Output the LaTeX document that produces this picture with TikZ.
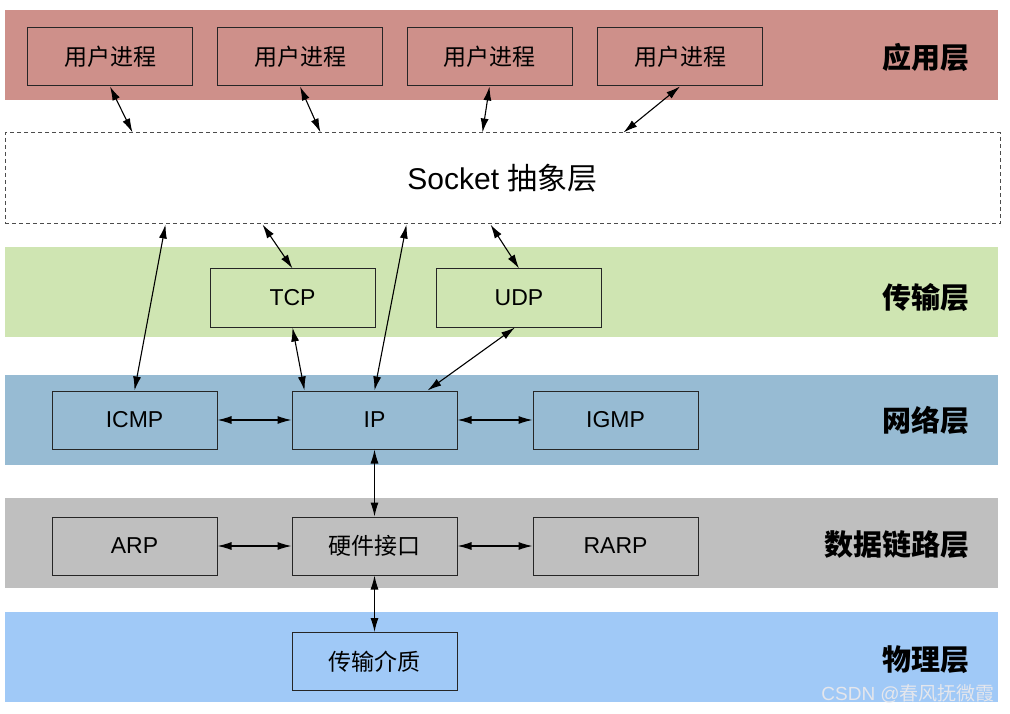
\documentclass[tikz,border=0pt]{standalone}
\usepackage{fontspec}
\setmainfont{Liberation Sans}
\newfontfamily\cjk{Noto Sans CJK SC}
\usetikzlibrary{arrows.meta}
\definecolor{appred}{RGB}{206,144,138}
\definecolor{tpgreen}{RGB}{207,229,178}
\definecolor{netblue}{RGB}{151,187,211}
\definecolor{linkgray}{RGB}{191,191,191}
\definecolor{phyblue}{RGB}{160,201,247}
\begin{document}
\begin{tikzpicture}
	[x=1pt, y=-1pt,
	band/.style={minimum width=993pt, minimum height=90pt, inner sep=0pt},
	box/.style={draw=black!85, line width=1pt, minimum width=165pt, minimum height=58pt, inner sep=0pt, font=\fontsize{23}{23}\selectfont},
	layer/.style={anchor=east, inner sep=0pt, font=\cjk\bfseries\fontsize{29}{29}\selectfont},
	link/.style={<->, >={Latex[length=14pt,width=8pt]}, line width=1.1pt}]
	\useasboundingbox (0,0) rectangle (1010,714);
	\node (app) [band, fill=appred] at (501.5,55) {};
	\node (sock) [draw=black!70, dash pattern=on 4pt off 3pt, line width=1pt, minimum width=995pt, minimum height=91pt, font=\fontsize{30}{30}\selectfont] at (502.5,178.5) {Socket {\cjk 抽象层}};
	\node (trans) [band, fill=tpgreen] at (501.5,292) {};
	\node (net) [band, fill=netblue] at (501.5,419.5) {};
	\node (dlink) [band, fill=linkgray] at (501.5,543) {};
	\node (phy) [band, fill=phyblue] at (501.5,657) {};
	\node (u1) [box] at (110,57) {\cjk 用户进程};
	\node (u2) [box] at (300,57) {\cjk 用户进程};
	\node (u3) [box] at (489.5,57) {\cjk 用户进程};
	\node (u4) [box] at (680,57) {\cjk 用户进程};
	\node (tcp) [box] at (292.5,298) {TCP};
	\node (udp) [box] at (519,298) {UDP};
	\node (icmp) [box] at (134.5,420) {ICMP};
	\node (ip) [box] at (374.5,420) {IP};
	\node (igmp) [box] at (615.5,420) {IGMP};
	\node (arp) [box] at (134.5,546) {ARP};
	\node (hw) [box] at (374.5,546) {\cjk 硬件接口};
	\node (rarp) [box] at (615.5,546) {RARP};
	\node (med) [box] at (374.5,661.5) {\cjk 传输介质};
	\node (lapp) [layer] at (970,57) {应用层};
	\node (ltrans) [layer] at (970,298) {传输层};
	\node (lnet) [layer] at (970,420) {网络层};
	\node (llink) [layer] at (970,545) {数据链路层};
	\node (lphy) [layer] at (970,660) {物理层};
	\node (mark) [anchor=east, inner sep=0pt, text={rgb,255:red,228;green,230;blue,236}, font=\fontsize{19}{19}\selectfont] at (995,694) {CSDN @{\cjk 春风抚微霞}};
	\draw [link] (u1.south) -- ([xshift=-370pt]sock.north);
	\draw [link] (u2.south) -- ([xshift=-182pt]sock.north);
	\draw [link] (u3.south) -- ([xshift=-20pt]sock.north);
	\draw [link] (u4.south) -- ([xshift=121pt]sock.north);
	\draw [link] ([xshift=-337pt]sock.south) -- (icmp.north);
	\draw [link] ([xshift=-240pt]sock.south) -- (tcp.north);
	\draw [link] (tcp.south) -- ([xshift=-70pt]ip.north);
	\draw [link] (ip.north) -- ([xshift=-96pt]sock.south);
	\draw [link] ([xshift=-12pt]sock.south) -- (udp.north);
	\draw [link] ([xshift=-4pt]udp.south) -- ([xshift=53pt]ip.north);
	\draw [link] (icmp) -- (ip);
	\draw [link] (ip) -- (igmp);
	\draw [link] (ip) -- (hw);
	\draw [link] (arp) -- (hw);
	\draw [link] (hw) -- (rarp);
	\draw [link] (hw) -- (med);
\end{tikzpicture}
\end{document}
